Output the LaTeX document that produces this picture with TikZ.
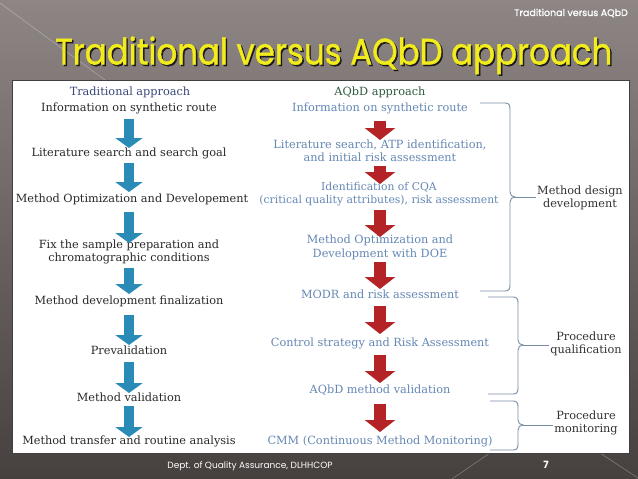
\documentclass[tikz,border=0pt]{standalone}
\usepackage{fontspec}
\setmainfont{DejaVu Serif}
\newfontfamily\titlefont{Poppins}
\newfontfamily\titlefontb{Poppins}[FakeBold=1.2]
\usetikzlibrary{arrows.meta}
\definecolor{bgtop}{RGB}{142,134,132}
\definecolor{bgbot}{RGB}{70,64,62}
\definecolor{titleyel}{RGB}{242,236,28}
\definecolor{lefttxt}{RGB}{40,40,40}
\definecolor{lefthead}{RGB}{55,70,120}
\definecolor{righttxt}{RGB}{100,135,180}
\definecolor{righthead}{RGB}{45,90,60}
\definecolor{tealarr}{RGB}{42,140,182}
\definecolor{redarr}{RGB}{180,35,38}
\definecolor{bracecol}{RGB}{120,140,165}
\definecolor{labtxt}{RGB}{50,50,50}
\tikzset{
  basetxt/.style={font=\fontsize{11.3}{13}\selectfont, align=center, inner sep=1pt},
  ltxt/.style={basetxt, text=lefttxt},
  lhead/.style={basetxt, text=lefthead},
  rtxt/.style={basetxt, text=righttxt},
  rhead/.style={basetxt, text=righthead},
  labnode/.style={basetxt, text=labtxt},
  tarr/.style={draw=tealarr, line width=10pt, -{Triangle[width=27pt,length=10pt]}},
  rarr/.style={draw=redarr, line width=12pt, -{Triangle[width=30pt,length=12pt]}},
  bracel/.style={draw=bracecol, line width=0.9pt},
  deco/.style={draw=white, opacity=0.3, line width=0.6pt},
  foot/.style={text=white, font=\titlefont\fontsize{9}{11}\selectfont, inner sep=0pt}
}
\begin{document}
\begin{tikzpicture}[x=1pt,y=-1pt]
\useasboundingbox (0,0) rectangle (638,479);
\shade[top color=bgtop, bottom color=bgbot] (0,0) rectangle (638,479);
\draw[deco] (0,3) -- (105,80);
\draw[deco] (490,453) -- (452,479);
\draw[deco] (600,453) -- (638,478);
% header
\node[anchor=east, text=white, font=\titlefontb\fontsize{9.5}{11}\selectfont, inner sep=0pt] (hdr) at (628,13) {Traditional versus AQbD};
% title
\node[anchor=base west, inner sep=0pt, text=black, opacity=0.75] (tshadow) at (56.5,66) {\resizebox{557pt}{28pt}{\titlefontb Traditional versus AQbD approach}};
\node[anchor=base west, inner sep=0pt, text=titleyel] (title) at (55,64.5) {\resizebox{557pt}{28pt}{\titlefontb Traditional versus AQbD approach}};
% panel
\fill[white] (12,80) rectangle (629,453);
\draw[black!75, line width=0.8pt] (12,80) rectangle (629,453);
% left column
\node[lhead] (l0) at (130,92) {Traditional approach};
\node[ltxt] (l1) at (129,108) {Information on synthetic route};
\node[ltxt] (l2) at (129,153) {Literature search and search goal};
\node[ltxt] (l3) at (132,199) {Method Optimization and Developement};
\node[ltxt] (l4) at (129,252) {Fix the sample preparation and\\chromatographic conditions};
\node[ltxt] (l5) at (129,301) {Method development finalization};
\node[ltxt] (l6) at (129,350) {Prevalidation};
\node[ltxt] (l7) at (129,397) {Method validation};
\node[ltxt] (l8) at (129,441) {Method transfer and routine analysis};
\draw[tarr, shorten <=11pt, shorten >=5pt] (l1.center) -- (l1.center |- l2.center);
\draw[tarr, shorten <=10pt, shorten >=7pt] (l2.center) -- (l2.center |- l3.center);
\draw[tarr, shorten <=13pt, shorten >=9pt] (l2.center |- l3.center) -- (l4.center);
\draw[tarr, shorten <=16pt, shorten >=7pt] (l4.center) -- (l5.center);
\draw[tarr, shorten <=14pt, shorten >=5pt] (l5.center) -- (l6.center);
\draw[tarr, shorten <=12pt, shorten >=4pt] (l6.center) -- (l7.center);
\draw[tarr, shorten <=9pt, shorten >=4pt] (l7.center) -- (l8.center);
% right column
\node[rhead] (r0) at (380,92) {AQbD approach};
\node[rtxt] (r1) at (380,108) {Information on synthetic route};
\node[rtxt] (r2) at (380,151) {Literature search, ATP identification,\\and initial risk assessment};
\node[rtxt, font=\fontsize{10.8}{13}\selectfont] (r3) at (379,194) {Identification of CQA\\(critical quality attributes), risk assessment};
\node[rtxt, font=\fontsize{11.3}{14}\selectfont] (r4) at (380,247) {Method Optimization and\\Development with DOE};
\node[rtxt] (r5) at (380,294) {MODR and risk assessment};
\node[rtxt] (r6) at (380,343) {Control strategy and Risk Assessment};
\node[rtxt] (r7) at (380,390) {AQbD method validation};
\node[rtxt] (r8) at (380,441) {CMM (Continuous Method Monitoring)};
\draw[rarr, shorten <=13pt, shorten >=11pt] (r1.center) -- (r1.center |- r2.center);
\draw[rarr, shorten <=15pt, shorten >=10pt] (r2.center) -- (r2.center |- r3.center);
\draw[rarr, shorten <=16pt, shorten >=10pt] (r2.center |- r3.center) -- (r4.center);
\draw[rarr, shorten <=15pt, shorten >=5pt] (r4.center) -- (r5.center);
\draw[rarr, shorten <=12pt, shorten >=9pt] (r5.center) -- (r6.center);
\draw[rarr, shorten <=12pt, shorten >=7pt] (r6.center) -- (r7.center);
\draw[rarr, shorten <=14pt, shorten >=9pt] (r7.center) -- (r8.center);
% braces
\draw[bracel] (480,103) -- (505,103) .. controls (509,103) and (510,105) .. (510,109) -- (510,192) .. controls (510,195) and (512,197) .. (515,197) .. controls (512,197) and (510,199) .. (510,202) -- (510,285) .. controls (510,289) and (509,291) .. (505,291) -- (480,291);
\draw[bracel] (488,297) -- (513,297) .. controls (517,297) and (518,299) .. (518,303) -- (518,340) .. controls (518,343) and (520,345) .. (523,345) .. controls (520,345) and (518,347) .. (518,350) -- (518,388) .. controls (518,392) and (517,394) .. (513,394) -- (488,394);
\draw[bracel] (490,401) -- (513,401) .. controls (517,401) and (518,403) .. (518,407) -- (518,420) .. controls (518,423) and (520,425) .. (523,425) .. controls (520,425) and (518,427) .. (518,430) -- (518,444) .. controls (518,448) and (517,450) .. (513,450) -- (490,450);
\coordinate (b1) at (515,197);
\coordinate (b2) at (523,345);
\coordinate (b3) at (523,425);
\node[labnode] (lab1) at (580,198) {Method design\\development};
\node[labnode] (lab2) at (586,344) {Procedure\\qualification};
\node[labnode] (lab3) at (586,423) {Procedure\\monitoring};
\draw[bracel] (b1) -- (b1 -| lab1.west);
\draw[bracel] (b2) -- (b2 -| lab2.west);
\draw[bracel] (b3) -- (b3 -| lab3.west);
% footer
\node[foot] (ft) at (250,466) {Dept. of Quality Assurance, DLHHCOP};
\node[foot, font=\titlefont\bfseries\fontsize{10}{12}\selectfont] (pg) at (546,465) {7};
\end{tikzpicture}
\end{document}
